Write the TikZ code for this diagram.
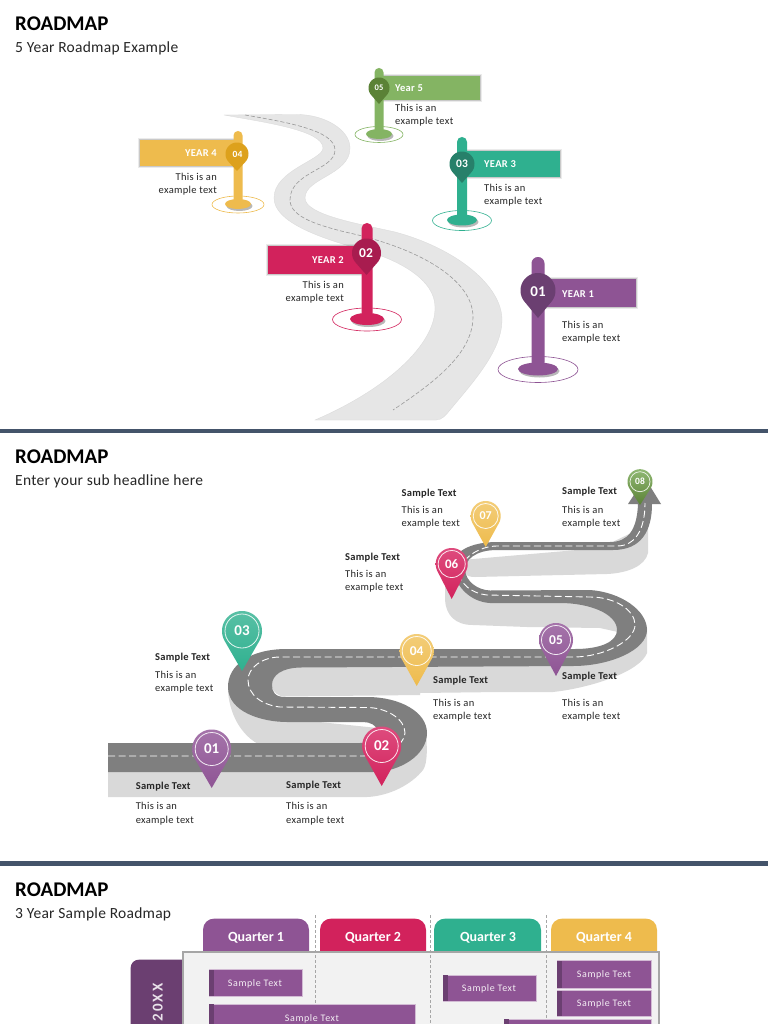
\documentclass[tikz,border=0pt]{standalone}
\usepackage{fontspec}
\setmainfont{Carlito}
\definecolor{cpurple}{HTML}{8E5494}
\definecolor{cpink}{HTML}{D2225C}
\definecolor{cteal}{HTML}{2FB08F}
\definecolor{cyellow}{HTML}{EEBB4D}
\definecolor{cgreen}{HTML}{84B463}
\definecolor{dpurple}{HTML}{6B3F71}
\definecolor{dpink}{HTML}{A81C4F}
\definecolor{dteal}{HTML}{27806A}
\definecolor{dyellow}{HTML}{DDA11C}
\definecolor{dgreen}{HTML}{5B8236}
\definecolor{lpurple}{HTML}{A574AA}
\definecolor{lpink}{HTML}{DE4C7E}
\definecolor{lteal}{HTML}{58C0A5}
\definecolor{lyellow}{HTML}{F3CD78}
\definecolor{lgreen}{HTML}{90B873}
\definecolor{band}{HTML}{44546A}
\definecolor{road}{HTML}{7F7F7F}
\definecolor{ribbon}{HTML}{D9D9D9}
\definecolor{road1}{HTML}{E6E6E6}
\newcommand{\bodyfont}{\fontsize{10.5}{13.5}\selectfont\addfontfeature{LetterSpace=3}}
\tikzset{
  title/.style={anchor=mid west,inner sep=0,yshift=-4pt,font=\fontsize{20.9}{22}\selectfont\bfseries,text=black},
  subtitle/.style={anchor=mid west,inner sep=0,yshift=-2.5pt,font=\fontsize{15.5}{17}\selectfont\addfontfeature{LetterSpace=1.7},text=black!85},
  bodyl/.style={anchor=north west,align=left,inner sep=0,yshift=-2.5pt,font=\bodyfont,text=black!85},
  bodyr/.style={anchor=north east,align=right,inner sep=0,yshift=-2.5pt,font=\bodyfont,text=black!85},
  head/.style={anchor=mid west,inner sep=0,yshift=-1pt,font=\fontsize{10.5}{12}\selectfont\bfseries\addfontfeature{LetterSpace=2.5},text=black!85},
  signl/.style={inner sep=0,yshift=-1pt,font=\fontsize{10.5}{12}\selectfont\bfseries\addfontfeature{LetterSpace=3},text=white},
  pinnum/.style={inner sep=0,font=\bfseries,text=white},
  tabtext/.style={inner sep=0,yshift=-2pt,font=\fontsize{14}{16}\selectfont\bfseries,text=white},
  bartext/.style={inner sep=0,yshift=-1pt,font=\fontsize{10}{12}\selectfont\addfontfeature{LetterSpace=6},text=white!90!cpurple},
  bandline/.style={fill=band,draw=none},
  guide/.style={draw=black!35,densely dashed,line width=.7},
}
% cx cy r tipy style
\newcommand{\pinpath}[5]{%
  \pgfmathsetmacro\pinang{asin(#3/(#4-#2))}%
  \path[#5] plot[domain={\pinang}:{-180-\pinang},samples=50,variable=\t] ({#1+#3*cos(\t)},{#2+#3*sin(\t)}) -- (#1,#4) -- cycle;%
}
% x top width basey brx bry rrx rry colour
\newcommand{\postbody}[9]{%
  \draw[#9,line width=.6] (#1,#4+.5) ellipse [x radius=#7,y radius=#8];
  \fill[black,opacity=.28] (#1+1.5,#4+2) ellipse [x radius=#5,y radius=#6];
  \fill[#9] (#1,#4) ellipse [x radius=#5,y radius=#6];
  \fill[#9,rounded corners=#3*.49] (#1-#3/2,#4) rectangle (#1+#3/2,#2);
}
% x0 y0 x1 y1 colour
\newcommand{\signrect}[5]{%
  \fill[black,opacity=.08] (#1-2,#2-2) rectangle (#3+2,#4+2);
  \fill[black,opacity=.14] (#1-1,#2-1) rectangle (#3+1,#4+1);
  \fill[#5] (#1,#2) rectangle (#3,#4);
}
% x0 y0 x1 y1 
\newcommand{\taskbar}[4]{%
  \fill[cpurple,draw=white!60!cpurple,line width=.4] (#1,#2) rectangle (#3,#4);
  \fill[dpurple] (#1,#2) rectangle (#1+5,#4);
}
\newcommand{\tabshape}[3]{%
  \fill[#3] (#1,952) -- (#1,930) .. controls (#1,923) and (#1+5,918.5) .. (#1+12,918.5) -- (#2-12,918.5) .. controls (#2-5,918.5) and (#2,923) .. (#2,930) -- (#2,952) -- cycle;
}
\begin{document}
\begin{tikzpicture}[x=1pt,y=-1pt]
\useasboundingbox (0,0) rectangle (768,1024);
\clip (0,0) rectangle (768,1024);
\fill[white] (0,0) rectangle (768,1024);
% bands
\fill[bandline] (0,428.5) rectangle (768,433);
\fill[bandline] (0,861) rectangle (768,865.5);
% titles
\node[title] (t1) at (15,24) {ROADMAP};
\node[subtitle] (s1) at (15,48) {5 Year Roadmap Example};
\node[title] (t2) at (15,457) {ROADMAP};
\node[subtitle] (s2) at (15,481) {Enter your sub headline here};
\node[title] (t3) at (15,890) {ROADMAP};
\node[subtitle] (s3) at (15,914) {3 Year Sample Roadmap};

% ---------- road 1
\fill[road1,draw=black!15,line width=.3]
  (224,115) .. controls (262,122) and (323,130) .. (323,148)
  .. controls (323,160) and (274,170) .. (274,198)
  .. controls (274,222) and (320,238) .. (360,249)
  .. controls (400,260) and (435,280) .. (435,307)
  .. controls (436,345) and (385,390) .. (315,420)
  -- (436,420) .. controls (442,420) and (446,415) .. (450,410)
  .. controls (475,380) and (502,350) .. (502,320)
  .. controls (502,285) and (455,248) .. (395,232)
  .. controls (360,224) and (305,215) .. (305,198)
  .. controls (305,178) and (350,175) .. (350,148)
  .. controls (350,130) and (325,114.5) .. (297,114.5)
  -- cycle;
\draw[black!40,line width=.6,dash pattern=on 4 off 2]
  (245,115) .. controls (285,122) and (335,130) .. (335,150)
  .. controls (335,170) and (290,172) .. (290,200)
  .. controls (290,218) and (322,226) .. (345,232)
  .. controls (420,248) and (473,280) .. (473,317)
  .. controls (473,355) and (430,385) .. (393,410);

% ---------- posts
\signrect{379}{76}{480}{100}{cgreen}
\postbody{379}{68}{9}{134}{13}{5}{24}{8}{cgreen}
\pinpath{379}{88}{10.5}{104}{fill=dgreen}
\node[pinnum,font=\fontsize{8.5}{10}\selectfont\bfseries] (n05) at (379,88) {05};
\node[signl,anchor=mid west] (y5) at (395,88) {Year 5};
\node[bodyl] (b5) at (395,101.5) {This is an\\example text};

\signrect{140}{140}{238}{166}{cyellow}
\postbody{238}{131}{9}{204}{13}{5}{26}{8.5}{cyellow}
\pinpath{237}{154}{11.5}{171}{fill=dyellow}
\node[pinnum,font=\fontsize{9.5}{10}\selectfont\bfseries] (n04) at (237.5,154.5) {04};
\node[signl,anchor=mid east] (y4) at (217,153) {YEAR 4};
\node[bodyr] (b4) at (217,170.5) {This is an\\example text};

\signrect{462}{151}{560}{177}{cteal}
\postbody{462}{137}{10}{220}{15}{5.5}{29.5}{10}{cteal}
\pinpath{462}{164}{12.5}{183}{fill=dteal}
\node[pinnum,font=\fontsize{11.5}{12}\selectfont\bfseries] (n03) at (462,164) {03};
\node[signl,anchor=mid west] (y3) at (484,164) {YEAR 3};
\node[bodyl] (b3) at (484,181.5) {This is an\\example text};

\signrect{268}{246}{367}{274}{cpink}
\postbody{367}{223}{11}{319}{17}{6}{34.5}{11.5}{cpink}
\pinpath{366.5}{253}{14.5}{275}{fill=dpink}
\node[pinnum,font=\fontsize{13.5}{14}\selectfont\bfseries] (n02) at (366,253) {02};
\node[signl,anchor=mid east] (y2) at (344,260) {YEAR 2};
\node[bodyr] (b2) at (344,278.5) {This is an\\example text};

\signrect{538}{279}{636}{307}{cpurple}
\postbody{538}{257}{13}{369}{20}{6.5}{40}{13}{cpurple}
\pinpath{538}{290.5}{17.5}{318}{fill=dpurple}
\node[pinnum,font=\fontsize{15}{16}\selectfont\bfseries] (n01) at (538,292) {01};
\node[signl,anchor=mid west] (y1) at (562,294) {YEAR 1};
\node[bodyl] (b1) at (562,318.5) {This is an\\example text};

% ---------- road 2: ribbon
\fill[ribbon] (108,760) -- (108,797) -- (367,797) .. controls (390,796) and (412,784) .. (423,770) .. controls (428,763) and (427,745) .. (426,733) -- (300,720) -- (228,690)
  .. controls (229,712) and (240,736) .. (262,746) -- cycle;
\fill[ribbon] (272,660) .. controls (268,680) and (270,696) .. (285,696.5) -- (420,695) -- (420,693) -- (500,692) -- (553,692) .. controls (590,688) and (640,672) .. (647,653) -- (647,628) -- (600,650) -- cycle;
\fill[ribbon] (445,575) -- (445,600) .. controls (446,615) and (455,625) .. (473,625) -- (527,627) -- (600,628) -- (618,632) -- (620,600) -- (480,590) -- cycle;
\fill[ribbon] (462,560) -- (464,572) .. controls (466,576) and (470,577) .. (475,577) -- (607,574) .. controls (628,573) and (645,566) .. (648,553) -- (648,525) -- (600,548) -- cycle;
% ---------- road 2: surface
\fill[road] (108,743) -- (360,743) .. controls (370,743) and (379,738) .. (378,732) .. controls (377,725) and (370,722) .. (363,722) -- (287,722) .. controls (262,722) and (228,712) .. (228,687) .. controls (228,665) and (250,649) .. (287,649) -- (575,649) .. controls (600,649) and (617,642) .. (617,630) .. controls (617,614) and (590,603) .. (560,603) -- (490,603) .. controls (470,602) and (453,585) .. (453,565) .. controls (453,552) and (470,542) .. (497,542) -- (610,542) .. controls (628,542) and (637,530) .. (638,504) -- (628,504) -- (645,478) -- (661,504) -- (652,504) .. controls (652,530) and (642,550) .. (613,550) -- (497,550) .. controls (475,550) and (465,560) .. (465,570) .. controls (466,582) and (478,590) .. (490,590.5) -- (590,590) .. controls (620,592) and (647,610) .. (647,630) .. controls (647,650) and (610,666) .. (573,666) -- (300,667.5) .. controls (282,668) and (272,675) .. (272,685) .. controls (272,692) and (275,697) .. (285,697) -- (367,697) .. controls (400,697) and (427,712) .. (427,733) .. controls (427,755) and (400,772) .. (373,772) -- (108,772) -- cycle;
\draw[white,line width=.9,dash pattern=on 7 off 3.5]
  (108,756) -- (362,756) .. controls (385,756) and (405,745) .. (405,733)
  .. controls (405,718) and (385,707.5) .. (367,707.5) -- (280,707)
  .. controls (262,705) and (248,695) .. (248,680)
  .. controls (248,668) and (262,657) .. (280,657) -- (573,657)
  .. controls (605,657) and (635,640) .. (635,625)
  .. controls (635,610) and (615,597) .. (590,597) -- (487,595)
  .. controls (470,593) and (460,583) .. (460,573)
  .. controls (460,558) and (480,546) .. (497,546) -- (617,546)
  .. controls (635,546) and (645,530) .. (645,503);

% ---------- pins
\pinpath{211.7}{749}{19.5}{788}{bottom color=cpurple,top color=lpurple}
\draw[white!85!lpurple,line width=.8] (211.7,749) circle (16.5);
\node[pinnum,font=\fontsize{15}{16}\selectfont\bfseries] (p01) at (211.7,749) {01};
\pinpath{381.7}{746}{19.5}{786}{bottom color=cpink,top color=lpink}
\draw[white!85!lpink,line width=.8] (381.7,746) circle (16.5);
\node[pinnum,font=\fontsize{15}{16}\selectfont\bfseries] (p02) at (381.7,746) {02};
\pinpath{242}{631}{20}{671}{bottom color=cteal,top color=lteal}
\draw[white!85!lteal,line width=.8] (242,631) circle (17);
\node[pinnum,font=\fontsize{15}{16}\selectfont\bfseries] (p03) at (242,631) {03};
\pinpath{416.7}{651}{17}{686}{bottom color=cyellow,top color=lyellow}
\draw[white!85!lyellow,line width=.8] (416.7,651) circle (14.5);
\node[pinnum,font=\fontsize{13.5}{14}\selectfont\bfseries] (p04) at (416.7,651) {04};
\pinpath{556}{640}{17}{676}{bottom color=cpurple,top color=lpurple}
\draw[white!85!lpurple,line width=.8] (556,640) circle (14.5);
\node[pinnum,font=\fontsize{13.5}{14}\selectfont\bfseries] (p05) at (556,640) {05};
\pinpath{451.7}{564}{16}{599}{bottom color=cpink,top color=lpink}
\draw[white!85!lpink,line width=.8] (451.7,564) circle (13.5);
\node[pinnum,font=\fontsize{13}{14}\selectfont\bfseries] (p06) at (451.7,564.5) {06};
\pinpath{485.7}{516}{15}{547}{bottom color=cyellow,top color=lyellow}
\draw[white!85!lyellow,line width=.8] (485.7,516) circle (12.5);
\node[pinnum,font=\fontsize{12}{14}\selectfont\bfseries] (p07) at (485.7,516) {07};
\pinpath{640}{481.7}{12.5}{505}{bottom color=dgreen,top color=lgreen}
\draw[white!85!lgreen,line width=.7] (640,481.7) circle (10);
\node[pinnum,font=\fontsize{9.5}{10}\selectfont\bfseries] (p08) at (640,481.7) {08};

% ---------- road 2 labels
\node[head] (h1) at (135.6,785.7) {Sample Text};
\node[bodyl] (d1) at (135.6,799.5) {This is an\\example text};
\node[head] (h2) at (286,785) {Sample Text};
\node[bodyl] (d2) at (286,799.5) {This is an\\example text};
\node[head] (h3) at (155,657) {Sample Text};
\node[bodyl] (d3) at (155,668.5) {This is an\\example text};
\node[head] (h4) at (433,680) {Sample Text};
\node[bodyl] (d4) at (433,696.5) {This is an\\example text};
\node[head] (h5) at (562,676) {Sample Text};
\node[bodyl] (d5) at (562,696.5) {This is an\\example text};
\node[head] (h6) at (345,557) {Sample Text};
\node[bodyl] (d6) at (345,567.5) {This is an\\example text};
\node[head] (h7) at (401.5,493) {Sample Text};
\node[bodyl] (d7) at (401.5,503.5) {This is an\\example text};
\node[head] (h8) at (562,491.5) {Sample Text};
\node[bodyl] (d8) at (562,503.5) {This is an\\example text};

% ---------- section 3
\tabshape{203}{309}{cpurple}
\tabshape{320}{426}{cpink}
\tabshape{434}{541}{cteal}
\tabshape{551}{657}{cyellow}
\node[tabtext] (q1) at (256,936) {Quarter 1};
\node[tabtext] (q2) at (373,936) {Quarter 2};
\node[tabtext] (q3) at (488,936) {Quarter 3};
\node[tabtext] (q4) at (604,936) {Quarter 4};
\fill[dpurple] (183,959.5) -- (140,959.5) .. controls (134,959.5) and (130.5,963) .. (130.5,969) -- (130.5,1040) -- (183,1040) -- cycle;
\fill[black!5,draw=black!35,line width=1.3] (183,952) rectangle (659,1040);
\draw[guide] (315,915) -- (315,1024);
\draw[guide] (430,915) -- (430,1024);
\draw[guide] (546,915) -- (546,1024);
\node[rotate=90,inner sep=0,text=white!85!dpurple,font=\fontsize{15}{16}\selectfont\bfseries\addfontfeature{LetterSpace=14}] (yr) at (157.7,1002.5) {20XX};
\taskbar{209}{969.5}{302}{996}
\node[bartext] (k1) at (255,983) {Sample Text};
\taskbar{209}{1004}{415}{1040}
\node[bartext] (k2) at (312,1017.5) {Sample Text};
\taskbar{443}{975}{536}{1001}
\node[bartext] (k3) at (489,988) {Sample Text};
\taskbar{557}{960.5}{651}{988}
\node[bartext] (k4) at (604,974) {Sample Text};
\taskbar{557}{990.5}{651}{1016}
\node[bartext] (k5) at (604,1003) {Sample Text};
\taskbar{504}{1019}{651}{1040}
\end{tikzpicture}
\end{document}
